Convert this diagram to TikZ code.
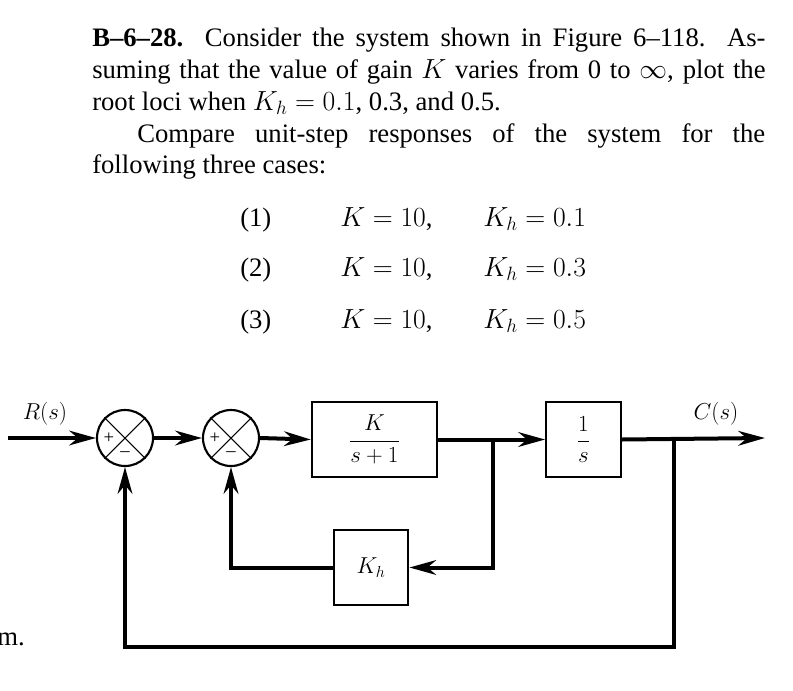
\documentclass[tikz,border=0pt]{standalone}
\usepackage{fontspec}
\setmainfont{Liberation Serif}
\usetikzlibrary{arrows.meta}
\begin{document}
\begin{tikzpicture}[x=0.75pt,y=-0.75pt,
  blk/.style={draw,line width=1.6pt,minimum height=56pt,inner sep=0pt,font=\fontsize{17}{20}\selectfont},
  sum/.style={draw,circle,line width=1.6pt,minimum size=42pt,inner sep=0pt},
  sig/.style={line width=3pt},
  arr/.style={sig,-{Stealth[length=20pt,width=11pt]}},
  txt/.style={anchor=base west,inner sep=0pt,font=\fontsize{20}{24}\selectfont}]
\useasboundingbox (0,0) rectangle (793,690);
% text
\node[txt] (l1) at (92,46) {\makebox[505pt][s]{\textbf{B–6–28.} Consider the system shown in Figure 6–118. As-}};
\node[txt] (l2) at (92,78) {\makebox[505pt][s]{suming that the value of gain $K$ varies from 0 to $\infty$, plot the}};
\node[txt] (l3) at (92,110) {root loci when $K_h = 0.1$, 0.3, and 0.5.};
\node[txt] (l4) at (137,142) {\makebox[471pt][s]{Compare unit-step responses of the system for the}};
\node[txt] (l5) at (92,173) {following three cases:};
\foreach \n/\y/\v in {1/226/0.1,2/276/0.3,3/328/0.5}{
  \node[txt] (c\n) at (240,\y) {(\n)};
  \node[txt] (k\n) at (340,\y) {$K = 10$,};
  \node[txt] (h\n) at (483,\y) {$K_h = \v$};
}
\node[txt] (m) at (-3,645) {m.};
% diagram
\node[sum] (s1) at (125,438) {};
\node[sum] (s2) at (231,438) {};
\foreach \s in {s1,s2}{
  \draw[line width=0.8pt] (\s.north west)--(\s.south east) (\s.north east)--(\s.south west);
  \node[font=\fontsize{14}{14}\selectfont] at ([xshift=-12pt]\s.center) {+};
  \node[font=\fontsize{14}{14}\selectfont] at ([yshift=-12pt]\s.center) {–};
}
\node[blk,minimum width=94pt] (g1) at (374.5,439.5) {$\displaystyle\frac{K}{s+1}$};
\node[blk,minimum width=56pt] (g2) at (583.5,439.5) {$\displaystyle\frac{1}{s}$};
\node[blk,minimum width=56pt] (kh) at (371,567.5) {$K_h$};
\coordinate (in) at (8,438);
\coordinate (b1) at (493,438);
\coordinate (b2) at (674,438);
\coordinate (out) at (765,438);
\draw[arr] (in) -- (s1.west);
\draw[arr] (s1.east) -- (s2.west);
\draw[arr] (s2.east) -- (g1.west);
\draw[arr] (g1.east) -- (g2.west);
\draw[arr] (g2.east) -- (out);
\draw[arr] (b1) |- (kh.east);
\draw[arr] (kh.west) -| (s2.south);
\draw[arr] (b2) |- (125,647) -- (s1.south);
\node[font=\fontsize{18}{18}\selectfont] (R) at (45,414) {$R(s)$};
\node[font=\fontsize{18}{18}\selectfont] (C) at (716,414) {$C(s)$};
\end{tikzpicture}
\end{document}
